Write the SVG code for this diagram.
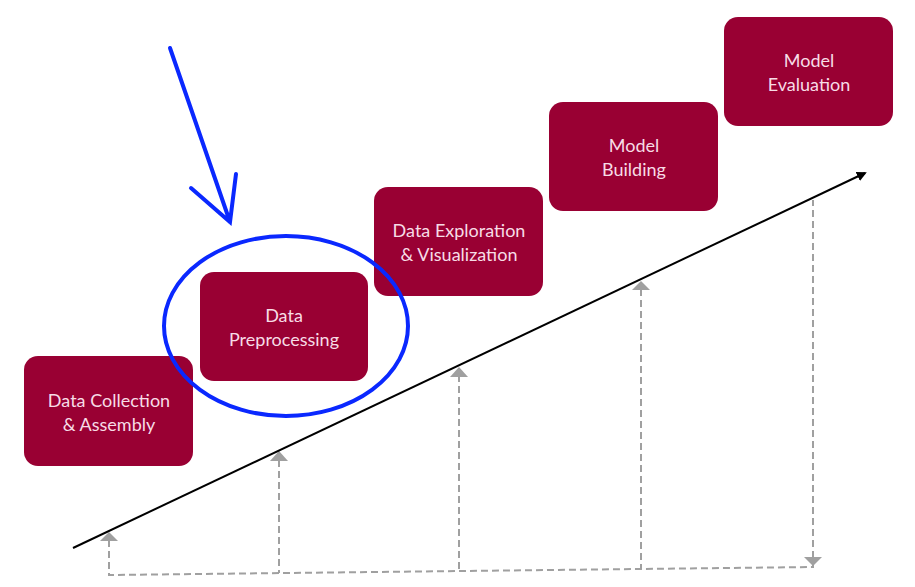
<svg xmlns="http://www.w3.org/2000/svg" width="915" height="587" viewBox="0 0 915 587">
<style>
.box{fill:#990033}
.t{font-family:Lato,"Open Sans",sans-serif;font-size:18px;fill:#f7dce6;text-anchor:middle}
.d{stroke:#a0a0a0;stroke-width:2;stroke-dasharray:7 4;fill:none}
.tri{fill:#a0a0a0}
</style>
<defs><marker id="ah" markerWidth="10" markerHeight="10" refX="8" refY="5" orient="auto" markerUnits="userSpaceOnUse" viewBox="0 0 10 10"><path d="M0,0 L10,5 L0,10 z" fill="#000"/></marker></defs>
<rect width="915" height="587" fill="#fff"/>
<g id="connectors">
<path class="d" d="M109,540 V575 L813,567 V200"/>
<path class="d" d="M279,460 V573"/>
<path class="d" d="M459,375 V571"/>
<path class="d" d="M641,289 V569"/>
<path class="tri" d="M100,541 L109,532 L118,541 z"/>
<path class="tri" d="M270,461 L279,451 L288,461 z"/>
<path class="tri" d="M450,377 L459,367 L468,377 z"/>
<path class="tri" d="M632,290 L641,281 L650,290 z"/>
<path class="tri" d="M804,557 L813,566 L822,557 z"/>
<line x1="73" y1="548" x2="865" y2="173" stroke="#000" stroke-width="2" marker-end="url(#ah)"/>
</g>
<g id="n1"><rect class="box" x="24" y="356" width="169" height="110" rx="14"/><text class="t" x="109" y="407">Data Collection</text><text class="t" x="109" y="431">&amp; Assembly</text></g>
<g id="n2"><rect class="box" x="200" y="272" width="168" height="109" rx="14"/><text class="t" x="284" y="322">Data</text><text class="t" x="284" y="346">Preprocessing</text></g>
<g id="n3"><rect class="box" x="374" y="187" width="169" height="109" rx="14"/><text class="t" x="459" y="237">Data Exploration</text><text class="t" x="459" y="261">&amp; Visualization</text></g>
<g id="n4"><rect class="box" x="549" y="102" width="169" height="109" rx="14"/><text class="t" x="634" y="152">Model</text><text class="t" x="634" y="176">Building</text></g>
<g id="n5"><rect class="box" x="724" y="17" width="169" height="109" rx="14"/><text class="t" x="809" y="67">Model</text><text class="t" x="809" y="91">Evaluation</text></g>
<g id="highlight" stroke="#0a28ff" stroke-width="4" fill="none" stroke-linecap="round">
<ellipse cx="286" cy="326" rx="122" ry="90"/>
<path d="M170,48 L230,222 M191,188 L230,222 L236,174"/>
</g>
</svg>
